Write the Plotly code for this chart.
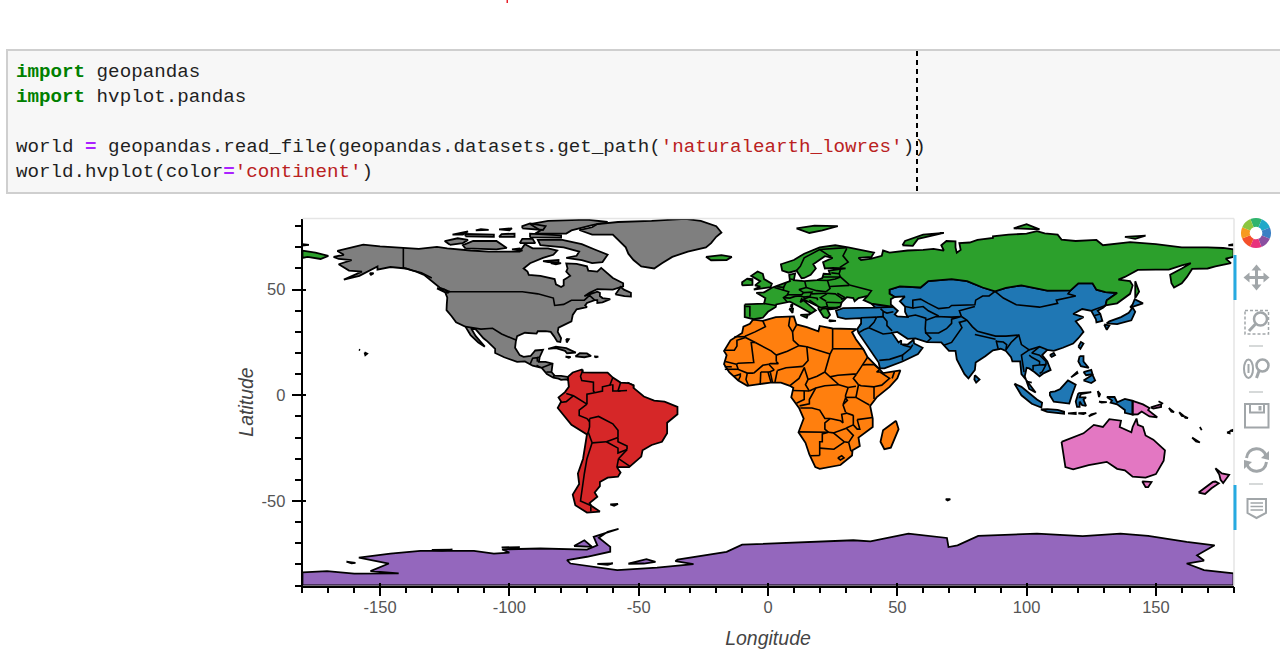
import plotly.graph_objects as go

W, H = 1280, 650

# ---------------------------------------------------------
# Map data, lon/lat
# ---------------------------------------------------------
# edge shared by Russia and its southern neighbours, east to west
russia_south = [(130.5, 42.5), (131, 45), (135, 48.4), (130.5, 48.8), (127, 50), (125.5, 53), (120, 53), (117, 49.6),
                (108, 49.5), (102, 51), (98, 52), (92, 50.8), (87.8, 49.2), (83, 51), (77, 54), (71, 55), (62, 54),
                (59, 51), (51, 51.5), (47, 50), (47, 48), (49, 46.5)]
caspian_west = [(47.5, 45.5), (47.5, 43)]
caucasus_north = [(48.5, 41.8), (44, 42.6), (40, 43.4)]

europe_main = [(-9, 43), (-1.5, 43.4), (-1, 46), (-4.5, 48.5), (-1.5, 48.7), (1.5, 50.9), (4, 52), (7, 53.5), (8.5, 54),
               (8.2, 57), (10.5, 57.7), (10, 54.5), (14, 54), (19, 54.5), (21, 55.5), (21.5, 57.5), (24, 57.3), (23.5, 59),
               (28, 59.5), (30, 60), (25, 60.3), (22, 60), (21.3, 63), (25, 65), (22, 65.8), (17.5, 62), (18.5, 60),
               (16.5, 57), (14, 55.5), (13, 55.4), (11, 59), (8, 58), (5.5, 59), (5, 62), (10, 64), (14, 67), (20, 70),
               (26, 71), (31, 70), (41, 67.5), (40, 65.5), (35, 65), (36, 64), (40, 64.7), (44, 66), (44.5, 68.5),
               (47, 67.5), (54, 68.5), (60, 68.8), (64, 69.3), (68, 68.5), (67, 71), (69, 73), (72.5, 72.8), (72.5, 70),
               (73, 67.5), (74.5, 68.8), (74, 72), (78, 72.3), (81, 73.5), (87, 74.5), (87, 75.2), (93, 76), (100, 76.5),
               (104, 77.7), (107, 76.6), (112, 76), (113.5, 73.7), (119, 73), (127, 73.5), (129.5, 71), (133, 71.5),
               (140, 72.5), (150, 71.5), (160, 70), (170, 70), (176, 69.7), (180, 69), (180, 65.5), (177, 64.7),
               (179, 62.5), (173, 61), (170, 60), (164, 59.8), (163, 57.8), (162, 56), (160, 53), (157, 51), (156, 53),
               (155.5, 57), (160, 60), (163.5, 62.5), (160, 61.5), (155, 59.5), (150, 59.5), (143, 59.3), (138, 56),
               (135.5, 54.7), (140, 54), (141, 52), (140, 48), (135, 43.5)]
europe_south = [(37, 45), (38.5, 47), (35, 46), (33.5, 44.5), (33, 46), (30.5, 46.4), (28.5, 44), (28, 42), (26.3, 41),
                (23, 40.5), (24, 38), (23, 36.5), (21.5, 37), (19.5, 41), (19.5, 42), (14, 45.2), (12.5, 44), (13, 45.6),
                (18.5, 40.2), (15.7, 38), (16.5, 39), (12, 42), (8.5, 44.3), (3.2, 43), (3, 41.8), (0, 39.5), (-2, 36.7),
                (-5.5, 36), (-9, 37)]
uk = [(-5.5, 50), (1, 51.2), (1.5, 52.8), (-1.5, 55), (-2, 57.5), (-4, 58.6), (-6.5, 56.5), (-3, 54), (-5, 52), (-3, 51.4)]
ireland = [(-10, 52), (-6, 52.2), (-6, 55), (-8, 55.2), (-10, 53.5)]
iceland = [(-24, 65.5), (-18, 66.3), (-14, 65.5), (-16, 64), (-22, 63.9)]
svalbard = [(11, 79), (16, 76.8), (21, 78), (27, 80), (18, 80.3)]
novaya_zemlya = [(52, 71), (56, 70.7), (58, 74), (68, 76.8), (60, 76), (53, 73)]
severnaya = [(95, 79), (105, 78.5), (100, 81)]
sakhalin = [(142, 54), (143.5, 49), (142, 46), (142, 50)]
novosibirsk = [(138, 75), (146, 75.5), (142, 74)]
chukotka_west = [(-180, 68.5), (-175, 67.5), (-170, 66), (-173, 64.5), (-178, 65.5), (-180, 65)]
wrangel = [(-180, 71.5), (-177.5, 71.2), (-180, 70.9)]
wrangel_east = [(178, 71), (180, 71.5), (180, 70.9)]
sicily = [(12.5, 38), (15.5, 38.2), (15, 36.7)]
sardinia = [(8.2, 41), (9.7, 41), (9.5, 39)]
corsica = [(8.6, 42.5), (9.5, 43), (9.3, 41.5)]
crete = [(23.5, 35.5), (26.3, 35.2), (24, 35)]
french_guiana = [(-54.5, 2.3), (-52, 3.5), (-52, 4.7), (-54, 5.8)]

asia_main = [(53, 46.8), (51, 44.5), (53, 42), (53, 39.5), (54, 37), (50, 37.3), (49, 38.3), (50.2, 40)]
asia_coast = [(41.5, 41.5), (36, 41.3), (31, 41), (29, 41.2), (26.3, 40), (27, 37), (30, 36.2), (36, 36.5), (36, 34),
              (34.5, 31.3), (35, 29.5), (38, 24), (42.8, 15.5), (43.3, 12.7), (45, 12.7), (52, 16), (58, 19.5),
              (59.8, 22.5), (56.5, 24.5), (56.3, 26.3), (54, 24), (51.5, 24.2), (51.5, 26), (50.5, 25), (48, 29.5), (50, 30),
              (54, 26.7), (57, 26.9), (61.5, 25.2), (67, 25), (68, 23.5), (70, 21), (72.5, 21), (73, 17), (76, 10),
              (77.5, 8), (80, 12), (80.3, 15.5), (84, 18.5), (87, 21.3), (90, 22), (92, 21), (94, 18), (94.5, 16),
              (97.5, 16), (98, 10), (100, 7), (103.5, 1.3), (101, 3), (100.3, 6), (99.3, 9), (100, 13), (101, 12.7),
              (103, 11), (105, 9), (106.7, 10.5), (109.3, 12), (108, 16), (106, 19), (108, 21.5), (110.5, 21),
              (114, 22.5), (118, 24.5), (120, 27), (122, 30), (121, 32), (119, 35), (122, 37), (118, 38.5), (121.5, 40.8),
              (125, 40), (126.8, 36), (127, 34.5), (129.3, 35.2), (128.5, 38.5), (127.5, 40), (129.7, 41.5)]
honshu = [(130.9, 34), (135, 33.7), (140.5, 35.5), (142, 39.5), (141, 41.5), (139.5, 39), (136.5, 37), (132, 35)]
hokkaido = [(140, 41.5), (145, 43.5), (141.8, 45.5), (141, 43)]
kyushu = [(130, 33.5), (132, 33), (131, 31)]
taiwan = [(120, 23), (121, 25.2), (122, 24.5), (120.8, 22)]
hainan = [(109, 19), (110.5, 20), (111, 19), (109.7, 18.2)]
sri_lanka = [(80, 9.5), (81.8, 7.5), (80.5, 6), (79.8, 7.5)]
luzon = [(120.5, 18.5), (122, 18.5), (122, 16), (124, 13), (121, 13.8), (120, 16)]
mindanao = [(122, 7), (125.5, 9.7), (126.5, 7), (125, 5.8)]
visayas = [(122, 11), (125, 12), (125.5, 10), (123, 9.5)]
palawan = [(117.2, 8.5), (119.5, 11), (119.7, 10.5)]
sumatra = [(95.3, 5.5), (98, 4), (104, -2), (106, -3.5), (105.7, -5.8), (102, -4), (98, 0)]
java = [(105.5, -6.7), (108, -6.5), (112, -6.9), (114.5, -7.8), (114.5, -8.7), (108, -7.8)]
borneo = [(109, 1.5), (111, 1.9), (113, 3), (116, 7), (119, 5), (118, 2), (117.5, 0), (116.5, -3.9), (114, -3.5),
          (110.5, -3), (109, 0)]
sulawesi = [(120, 1), (125, 1.5), (121, 0.5), (120.5, -1), (123, -1), (122, -2), (123, -5), (121.5, -4.7), (120.5, -3),
            (120.5, -5.5), (119.5, -5.5), (119, -3)]
timor = [(124, -10), (127, -8.4), (125, -9)]
sumbawa = [(116, -8.6), (119, -8.3), (119, -8.9)]
flores = [(120, -8.5), (123, -8.3), (122, -8.9)]
halmahera = [(127.5, 2), (128.4, 0.5), (128, -0.8)]
seram = [(128, -3), (131, -3.2), (129, -3.5)]
new_guinea_west = [(131, -0.8), (134, -0.8), (135, -3.3), (138, -1.7), (141, -2.6), (141, -9.1), (138, -8.3), (138, -7),
                   (135, -4.3), (132.5, -3.5), (133, -2.5)]

png = [(141, -2.6), (145, -4.3), (147.5, -6), (147, -7), (150.5, -10.4), (147.5, -10), (144.5, -7.7), (143, -9), (141, -9.1)]
new_britain = [(148, -5.7), (152, -4.2), (152, -5.5), (149, -6.3)]
new_ireland = [(151, -2.8), (152.8, -4), (152, -3.8)]
solomon_a = [(155, -6), (157, -8), (156, -7.8)]
solomon_b = [(159, -8), (161, -10), (160, -9.8)]
solomon_c = [(161, -10), (162.4, -10.8), (161.4, -10.7)]
vanuatu = [(167, -15), (167.7, -16.5), (167.2, -16)]
new_caledonia = [(164, -20), (167, -22.3), (165.5, -21.8)]
fiji = [(177.5, -17.7), (178.5, -18), (178.5, -17.2)]
fiji_east = [(178.6, -16.8), (180, -16.2), (179.6, -16.9)]
australia = [(113.5, -22), (114, -26), (115, -34), (118, -35), (124, -33), (131, -31.5), (135, -34.8), (138, -35.5),
             (141, -38.5), (146, -39), (150, -37.3), (153, -31), (153.5, -26), (149, -21), (146, -19), (145, -15),
             (143, -14), (142.5, -11), (141, -15), (140.5, -17.5), (136, -15), (136.5, -12), (132, -11.3),
             (129.5, -15), (126, -14), (122, -18), (117, -20.5)]
tasmania = [(144.7, -40.7), (148.3, -41), (147, -43.5), (146, -43.5)]
nz_south = [(166.5, -46), (172, -41), (173, -40.8), (174.3, -41.7), (171.5, -44), (169, -46.7)]
nz_north = [(173, -34.5), (175.5, -37), (178.3, -37.7), (176, -41.5), (175, -40), (174.5, -37.5)]

africa = [(-5.8, 35.8), (-2, 35.2), (3, 37), (10, 37.3), (11, 33.5), (15, 32.3), (19.5, 30.3), (20, 32.8), (25, 31.6),
          (32, 31.2), (34.2, 31.3), (32.5, 29.8), (34, 26.5), (37, 21.5), (38.5, 18), (43, 12.5), (44.5, 10.5), (51.2, 11.8),
          (50, 8), (47, 4), (42, -1), (39.5, -5), (40.5, -11), (40.5, -15), (35, -20), (35.5, -24), (32.7, -26),
          (32.5, -28.5), (28, -33), (20, -34.8), (18.3, -34), (16, -28), (14.5, -22.5), (11.8, -17.5), (13.8, -11),
          (12, -6), (9, -1), (9.8, 3.5), (8.5, 4.5), (5, 6), (1, 6), (-4, 5.2), (-8, 4.5), (-11.5, 7), (-15, 11),
          (-17, 14.7), (-16, 19), (-17, 21), (-14.5, 26), (-10, 29.5), (-9.5, 32.5), (-7, 33.8)]
madagascar = [(49.5, -12), (50.5, -16), (47.5, -24.8), (45, -25.5), (43.5, -22), (44.5, -16.5)]

north_america = [(-168, 65.5), (-164, 66.5), (-166.5, 68.3), (-156.5, 71.3), (-150, 70.5), (-141, 69.7), (-135, 69.3),
                 (-128, 70.2), (-124, 69.5), (-115, 68.5), (-108, 68), (-100, 68), (-96, 68), (-94, 71.5), (-91, 69.5),
                 (-85, 69.5), (-81.5, 68.5), (-83, 66.5), (-87, 65), (-92, 62.5), (-94.5, 60), (-93, 58.5), (-92.5, 57),
                 (-88, 56.5), (-82.5, 55), (-82, 52.5), (-80, 51.2), (-79, 52), (-79, 54.5), (-76.5, 56.5), (-78, 58.5),
                 (-77.5, 60), (-78, 62.4), (-74, 62.2), (-70, 61), (-69.5, 59), (-66, 58.5), (-64.5, 60.3), (-62, 57.5),
                 (-60, 55.5), (-56, 53), (-56, 51.5), (-60, 50), (-66, 50.2), (-69, 48.5), (-71, 46.9), (-66, 49),
                 (-65, 48.5), (-65, 47), (-64, 46), (-61, 45.5), (-64, 44), (-66, 43.7), (-66, 45), (-67, 45), (-70, 43.7),
                 (-70.7, 42.5), (-70, 41.7), (-74, 40.7), (-75.5, 38), (-76, 35), (-78, 33.8), (-81, 32), (-81.3, 30),
                 (-80, 27), (-80.3, 25.2), (-81.5, 25.5), (-82.8, 28), (-84, 30), (-86, 30.4), (-89, 30.3), (-89.5, 29.2),
                 (-91, 29.3), (-94, 29.6), (-97, 28), (-97.5, 25.5), (-97.8, 22.5), (-96, 19), (-94.5, 18.2), (-91.8, 18.6),
                 (-90.5, 20.5), (-90, 21.2), (-87, 21.5), (-87.8, 19), (-88.3, 18), (-88.6, 15.8), (-86, 15.8), (-83.3, 15),
                 (-83.7, 11), (-82.5, 9.3), (-80, 9.2), (-77.4, 8.7), (-77.4, 7.2), (-78, 7.5), (-80, 7.3), (-81, 7.9),
                 (-83, 8.3), (-85.5, 10), (-87.5, 13), (-91, 14), (-94, 16), (-97, 15.8), (-102, 18), (-105.5, 20),
                 (-105.5, 22), (-108.5, 25.5), (-110, 27), (-113, 31.2), (-114.8, 31.7), (-113, 28), (-110, 24),
                 (-109.5, 23), (-112, 25), (-115, 28.5), (-117, 32.5), (-120.6, 34.5), (-122.4, 37.5), (-124.3, 40.3),
                 (-124.2, 43), (-124, 46.2), (-124.7, 48.4), (-123, 49), (-127, 51), (-130, 54), (-133, 57), (-136, 58.5),
                 (-140, 60), (-146, 60.7), (-151, 59.5), (-151, 61), (-153, 59.8), (-158, 56.5), (-164, 54.7), (-157, 58.5),
                 (-162, 59), (-165, 61), (-166, 62), (-161, 64), (-166, 64.5)]
greenland = [(-73, 78.2), (-68, 76), (-60, 76), (-55, 70), (-54, 67), (-52, 64), (-49, 61), (-44, 60), (-41, 62.5),
             (-37, 65.5), (-31, 68), (-24, 70), (-22, 72), (-20, 75), (-18, 77), (-20, 80), (-26, 82.5), (-32, 83.5),
             (-45, 82.5), (-58, 82), (-66, 81), (-68, 79.5)]
baffin = [(-80, 73.7), (-72, 71.5), (-67, 69), (-62, 66.5), (-64, 63), (-68, 62.5), (-72, 64), (-78, 65), (-74, 66),
          (-73, 68), (-79, 70), (-88, 71), (-89, 73.5)]
victoria = [(-117, 69.5), (-105, 69), (-101, 69.7), (-105, 73), (-114, 73), (-118, 71)]
ellesmere = [(-90, 76.5), (-78, 76.5), (-76, 78), (-68, 80.5), (-62, 82), (-70, 83.1), (-85, 82.5), (-92, 81), (-88, 78)]
banks = [(-123, 71.2), (-118, 72), (-116, 73.5), (-120, 74.3), (-125, 73)]
devon = [(-92, 74.7), (-80, 74.6), (-80, 75.7), (-92, 76.5)]
melville = [(-117, 75.2), (-106, 75), (-106, 76), (-117, 76.3)]
axel_heiberg = [(-95, 79), (-87, 78.2), (-86, 80), (-92, 81.3), (-95, 80)]
southampton = [(-87, 63.5), (-81, 64), (-81, 62.8), (-85, 63)]
somerset = [(-96, 72), (-90, 72), (-91, 74), (-95, 74)]
prince_patrick = [(-122, 76), (-116, 77.5), (-118, 76)]
bathurst = [(-104, 75), (-98, 75), (-98, 76.5), (-103, 76.3)]
king_william = [(-99, 69), (-96, 69.5), (-95, 68.3)]
ringnes = [(-104, 78.5), (-100, 78), (-99, 79)]
borden = [(-113, 78), (-108, 78.3), (-111, 78.6)]
coats = [(-84, 62.5), (-80, 62.5), (-82, 62)]
kodiak = [(-154, 57.8), (-152.5, 57.8), (-153.5, 57)]
newfoundland = [(-59, 47.7), (-55.5, 46.9), (-53, 46.7), (-53, 48.5), (-55.7, 50), (-57, 51.3), (-58, 49.5)]
vancouver = [(-128, 50.6), (-125, 50), (-123.5, 48.5), (-125, 48.8)]
cuba = [(-85, 22), (-82, 23), (-78, 22.3), (-74.3, 20.2), (-77.7, 19.9), (-78.5, 21), (-82, 22.3)]
hispaniola = [(-74.5, 18.4), (-72.8, 19.9), (-70, 19.8), (-68.4, 18.6), (-71, 18)]
jamaica = [(-78.3, 18.3), (-76.3, 18.2), (-77, 17.8)]
puerto_rico = [(-67.2, 18.4), (-65.6, 18.3), (-66.5, 18)]
bahamas = [(-78, 26.7), (-77, 26.5), (-77.8, 25)]
hawaii = [(-156, 20.3), (-155, 19.7), (-155.7, 19)]
oahu = [(-158.2, 21.6), (-157.7, 21.4), (-158, 21.3)]

south_america = [(-77.4, 8.7), (-75.5, 10.8), (-72, 12.2), (-71.5, 10.8), (-68, 10.7), (-62, 10.7), (-60, 8.4), (-57, 6),
                 (-54, 5.8), (-52, 4.7), (-52, 3.5), (-50, 1.5), (-48, -0.6), (-44, -2.5), (-40, -3), (-35, -5.5), (-35, -9),
                 (-39, -13), (-39, -18), (-41, -22), (-45, -23.5), (-48.5, -26), (-49, -29), (-53.7, -34), (-58.4, -34),
                 (-57, -36.5), (-58, -38.5), (-62, -39), (-65, -41), (-65, -43), (-67, -46), (-66, -48), (-69, -51),
                 (-68.3, -52.3), (-65, -55), (-70, -55.5), (-74.5, -52), (-75.5, -47), (-73, -42), (-73.5, -37),
                 (-71.5, -30), (-70, -18.5), (-76, -14), (-81.3, -6), (-80, -3), (-81, -1), (-78.5, 1.5), (-77, 4), (-77.4, 7.2)]

antarctica = [(-180, -83.8), (-170.5, -83.2), (-160, -84.4), (-142.8, -84.3), (-153.7, -83.2), (-146.6, -79.6),
              (-158.2, -76.8), (-146, -74.9), (-134.4, -73.6), (-113.7, -73.6), (-106, -74.9), (-100, -74.4),
              (-102.8, -72.9), (-88, -72.5), (-70, -73), (-66, -71), (-67.4, -67), (-57.8, -63.2), (-62, -64.6),
              (-65.4, -67.4), (-61, -71.7), (-61, -74), (-70, -76.4), (-77.7, -78), (-76.4, -79.6), (-58.3, -82.7),
              (-42.9, -81.5), (-28.8, -79.9), (-35.8, -78.5), (-35, -77.8), (-26.1, -76), (-16, -74.1), (-10, -70.7),
              (8.7, -69.7), (33, -68.6), (39.6, -69.1), (54.3, -65.5), (69.2, -67.5), (69.8, -71.8), (73.3, -71),
              (81.3, -66.5), (104, -65.5), (121.7, -66.6), (136.3, -65.5), (147, -66.5), (161.9, -69.4), (172.7, -71),
              (165.9, -75.7), (168.6, -78.2), (161.9, -79.6), (168.6, -82.7), (180, -84.3), (180, -90), (-180, -90)]
alexander = [(-75, -71.3), (-71, -68.6), (-68, -71.7)]
thurston = [(-103, -72), (-96, -71.8), (-98, -72.4)]
siple = [(-130, -73.2), (-122, -73), (-126, -73.5)]
berkner = [(-66, -79.8), (-60, -79.5), (-62, -80.2)]
filchner = [(-54, -79.7), (-47, -77.5), (-43.5, -78.8), (-48, -79.6)]
roosevelt = [(-163, -78.7), (-159.5, -79.3), (-161, -79.5)]
kerguelen = [(68.7, -49.2), (70.5, -49.2), (69.5, -49.8)]
falklands = [(-61, -51.6), (-58, -51.4), (-59.5, -52.3)]

# country borders drawn on top of the filled land
na_borders = [[(-141, 69.7), (-141, 60.3), (-137.5, 59), (-134, 58), (-130, 55.5)],
              [(-123, 49), (-95, 49), (-89, 48), (-83, 46), (-82.5, 42.5), (-79, 43), (-76, 45), (-71, 45), (-69, 47.3), (-67, 45)],
              [(-117, 32.5), (-111, 31.3), (-106.5, 31.7), (-103, 29), (-97.2, 26)],
              [(-92, 14.6), (-91, 17.5), (-89.2, 17.8), (-89.2, 15.9)], [(-88.3, 18), (-89.2, 17.9)],
              [(-88, 13.2), (-89.5, 14.3)], [(-83.3, 15), (-87.5, 13)], [(-83.7, 11), (-85.7, 11)], [(-82.7, 9.5), (-83, 8.3)]]
sa_borders = [[(-71.5, 12.2), (-72.5, 9), (-72, 7), (-67.5, 6.2), (-67.5, 2), (-67, 1.2)], [(-60, 8.4), (-61, 5.2), (-60.5, 5)],
              [(-60, 5.2), (-60, 2), (-57, 2)], [(-57, 6), (-58, 2)], [(-58, 2), (-54.5, 2.3)],
              [(-67, 1.2), (-64, 2), (-64, 4), (-60.5, 5)], [(-67, 1.2), (-70, 0.5), (-70, -4.2)],
              [(-70, -4.2), (-72, -2.5), (-75.2, -0.2), (-78, 0.8)], [(-75.2, -0.2), (-78, -3), (-80.3, -3.4)],
              [(-70, -4.2), (-73, -7), (-73, -9.5), (-70, -11), (-69, -12.5)], [(-69, -11), (-69, -15), (-69.5, -17.5)],
              [(-69, -11), (-65.5, -10), (-60, -13.5), (-58, -16.5), (-58, -20)], [(-69.5, -17.5), (-68, -22.5)],
              [(-68, -22.5), (-62.5, -22)], [(-62.5, -22), (-58, -20)], [(-58, -20), (-58, -22), (-54.5, -24), (-54.5, -25.7)],
              [(-62.5, -22), (-58, -25), (-58, -27.3), (-54.5, -25.7)], [(-54.5, -25.7), (-57.8, -30)],
              [(-57.8, -30), (-53.5, -33.5)], [(-58.4, -34), (-57.8, -30)],
              [(-68, -22.5), (-70, -30), (-71, -37), (-72, -45), (-72.5, -50), (-68.3, -52.3)], [(-68.5, -52.5), (-68.5, -55)],
              [(-70, -18.5), (-69.5, -17.5)]]
africa_borders = [[(-2, 35.2), (-1, 32.5), (-5, 30), (-8.7, 28), (-8.7, 27.3)], [(-13, 27.7), (-8.7, 27.7)],
                  [(-8.7, 27.3), (-12, 26), (-12, 23.3), (-13, 21.3), (-17, 21.3)], [(-8.7, 27.3), (-4.9, 25)],
                  [(-4.9, 25), (-6.5, 25), (-5.5, 15.5), (-11.5, 15.2), (-12.2, 14.7)], [(-16.5, 16), (-12.2, 14.7)],
                  [(-4.9, 25), (1.2, 21), (3.2, 19), (3.2, 16)], [(8.5, 37), (8, 33), (9.5, 30)],
                  [(9.5, 30), (9.8, 26), (12, 23.5)], [(3.2, 19), (7.5, 20.8), (12, 23.5)], [(11, 33.2), (9.5, 30)],
                  [(12, 23.5), (15, 23)], [(15, 23), (24, 19.5)], [(25, 31.6), (25, 22)], [(25, 22), (36.9, 22)],
                  [(25, 22), (24, 20), (24, 19.5)], [(24, 19.5), (22.5, 13), (22, 11)], [(22, 11), (19, 9), (15.5, 7.5)],
                  [(15.5, 7.5), (14, 13), (14, 13.3)], [(15, 23), (15.5, 16.5), (13.5, 13.7)],
                  [(13.5, 13.7), (7, 13), (3.6, 11.7)], [(3.2, 16), (4, 15), (1, 15), (0.3, 14.7)],
                  [(0.3, 14.7), (-2, 14.2), (-5.5, 10.5)], [(0.3, 14.7), (2.4, 12)],
                  [(-5.5, 10.5), (-8, 10.5), (-11.5, 12.2), (-12.2, 14.7)], [(-11.5, 12.3), (-16.7, 12.3)],
                  [(-16.8, 13.5), (-14, 13.5)], [(-13.2, 9), (-10.7, 10), (-10.7, 9), (-11.5, 7)],
                  [(-8, 10.5), (-8.5, 7.5), (-7.5, 4.4)], [(-3, 5), (-2.8, 11)], [(-2.8, 11), (0.5, 11), (2.4, 12)],
                  [(0, 11), (1.2, 6)], [(0.9, 11), (1.7, 6.2)], [(3.6, 11.7), (2.7, 6.3)], [(14, 13), (12, 8), (8.6, 4.7)],
                  [(9.7, 2.3), (16, 2)], [(15.5, 7.5), (14.5, 5), (16, 2)], [(16, 2), (18.5, 3.5), (22, 4.5), (27.4, 5)],
                  [(27.4, 5), (24, 8.5), (22, 11)], [(24, 8.7), (27, 9.5), (33, 10), (34, 10)], [(36.5, 14.3), (34.2, 10)],
                  [(36.5, 14.3), (38, 14.5), (41, 14.5), (43, 12.5)], [(38.5, 18), (36.5, 14.3)], [(43, 12), (42, 11), (43.3, 11)],
                  [(43.3, 11), (47, 8), (44, 4.8), (41, 4)], [(48.9, 11.2), (48, 8)], [(41, 4), (36, 4.5), (35, 5)],
                  [(34.2, 10), (33, 8), (35, 5)], [(41, 4), (41, -1.7)], [(39.2, -4.6), (34, -1)], [(35, 5), (34, 0.3), (34, -1)],
                  [(34, -1), (30, -1)], [(34, 4.3), (31, 3.7)], [(31, 3.7), (30, 0), (30, -1.2)], [(27.4, 5), (31, 3.7)],
                  [(30, -1.3), (29, -4.5), (30.7, -2.4), (30, -1.3)], [(29, -4.5), (30, -8)],
                  [(18.5, 3.5), (16, -2), (16, -4), (12.2, -5)], [(14, 2), (14, -2), (11, -3.8)],
                  [(12.5, -6), (17, -6), (20, -7), (22, -11), (24, -11)], [(24, -11), (28, -12), (29, -13), (28.5, -9), (30.5, -8.5)],
                  [(24, -11), (22, -13), (22, -16), (23.4, -17.5)], [(11.8, -17.3), (23.4, -17.5)], [(30, -8.3), (33, -9.5)],
                  [(40.5, -10.5), (34.5, -11.5)], [(33, -9.5), (33, -14), (34.5, -16), (35.5, -16), (34.5, -11.5)],
                  [(33, -14), (30.3, -15.5)], [(30.3, -15.6), (25.3, -17.8), (23.4, -17.5)],
                  [(30.3, -15.6), (33, -19), (31.2, -22.3)], [(31.2, -22.3), (32, -26), (32.7, -26.8)],
                  [(25.3, -17.8), (29.5, -22), (31.2, -22.3)], [(29.5, -22.2), (25.5, -25.5), (20, -25)],
                  [(23.4, -17.5), (21, -18.3), (21, -22), (20, -22), (20, -28.5)], [(20, -28.5), (16.5, -28.6)],
                  [(27, -29.6), (28.5, -28.6), (29.4, -29.6), (28, -30.6), (27, -29.6)]]
asia_borders = [[(53, 42), (56, 41.3), (56, 45), (59, 45.5), (62, 43.5), (66, 41), (70, 41.5), (71, 42.5), (80, 42.8), (80.3, 45), (83, 47), (85.5, 47), (87.8, 49.2)],
                [(56, 41.3), (60, 42), (62, 40), (66, 37.5)], [(54, 37.3), (57, 38), (61, 36.5), (61, 35.5)],
                [(61, 35.5), (65, 37.3), (71, 37), (74.8, 37.3), (71, 36), (71, 34), (69, 31.5), (66, 29.5), (61, 29.5), (60.8, 31.5), (61, 35.5)],
                [(60.8, 29.8), (63, 27), (61.5, 25.2)], [(68, 23.7), (71, 25), (75, 32), (74, 34.5), (77, 35.5)],
                [(74.8, 37.3), (74, 40), (80, 42)],
                [(74.8, 37.3), (77, 35.5), (79, 32.5), (81, 30.3), (88, 28), (92, 28), (97, 28.5), (98, 24), (101, 21.5), (105, 23), (108, 21.5)],
                [(80, 28.8), (88, 26.5)], [(88.2, 26), (89, 22)], [(92, 21.5), (92.3, 24), (91, 25.2), (88.2, 25.5)],
                [(92, 21.5), (94, 25), (97, 28.5)], [(101, 21.5), (98, 19), (98.5, 15), (99, 11)],
                [(105, 23), (102, 20), (105, 19), (107.5, 16), (107.5, 14.5)], [(101, 19), (102, 18), (105, 16), (105, 14.3)],
                [(102.5, 12), (102.5, 14), (105, 14.3), (107.5, 14.5), (106, 11), (105, 10.3)], [(100.2, 6.5), (102, 6)],
                [(125, 40), (130.5, 42.5)], [(126.3, 37.8), (128.5, 38.5)],
                [(87.8, 49.2), (91, 46), (96, 42.8), (105, 41.7), (112, 43.5), (111.5, 45), (119, 47), (116, 48), (117, 49.6)],
                [(36, 36.7), (42, 37)], [(42, 37), (44.5, 37.2), (46, 35), (46, 33), (48, 30.5)], [(42, 37), (41, 34.5), (39, 32)],
                [(39, 32), (37, 31), (35, 29.5)], [(39, 32), (44.5, 29), (48, 29.5)], [(43, 16.5), (47, 17), (52, 19), (52, 16.5)],
                [(52, 19), (55, 22), (56, 24)], [(52, 23.8), (55.2, 22.7)], [(41.5, 41.5), (46, 41.5), (48.5, 41.8)],
                [(43.5, 41), (44.8, 39.5), (46, 38.9), (48.5, 39.5)], [(44.5, 37.2), (44.5, 39.7)], [(35.5, 33), (36, 34)]]
europe_borders = [[(-8.8, 42), (-7, 42), (-7, 37.2)], [(-1.5, 43.4), (3.2, 42.5)],
                  [(2.5, 51), (6, 49.5), (8, 49), (7.5, 47.5), (6, 46.2), (7.5, 44)], [(3.5, 51.4), (6, 51), (6, 49.5)],
                  [(7, 53.3), (6, 51)], [(14.2, 54), (14.8, 51), (12, 50), (13.8, 48.6)], [(8.6, 55), (9.8, 54.8)],
                  [(7.5, 47.6), (10, 47.5), (13, 47.5), (13.8, 48.6)],
                  [(6, 46.2), (8.5, 46), (10.4, 46.8), (12.2, 47), (14, 46.5), (13.7, 45.8)],
                  [(13.8, 48.6), (17, 48.8), (16.2, 46.8), (14, 46.5)], [(14.8, 51), (18.8, 49.5), (22.5, 49)],
                  [(17, 48), (22.5, 48.3)], [(19, 54.4), (23, 54.3), (23.6, 52), (24, 50.5), (22.5, 49)],
                  [(21, 56), (26, 56), (28, 56), (27.5, 57.5), (24.5, 57.9)], [(23, 54.3), (26, 55), (28, 56)],
                  [(28, 56), (31, 53), (31.5, 52.2)], [(24, 51.5), (31.5, 52)], [(31.5, 52.2), (35, 51), (40, 49.5), (38.5, 47)],
                  [(22.5, 48.3), (26, 48), (29, 45.5)], [(26.8, 48.3), (29.8, 46.2), (28.2, 45.5)],
                  [(22.8, 48), (20.3, 46.2), (22.5, 44.5)], [(22.5, 44), (28.5, 43.8)], [(22.5, 44), (23, 42), (20.5, 41.5), (19.3, 42)],
                  [(13.7, 45.5), (16, 46.5), (19, 45.9), (19.2, 45)], [(16, 45), (19, 42.5)], [(20, 39.7), (21, 41), (26, 41.3)],
                  [(23, 41.5), (26.3, 41.5), (28, 42)], [(11, 59), (12.5, 61), (14, 65), (20, 69), (26, 69.5), (30.5, 69.8)],
                  [(20, 69), (23.7, 66), (24.5, 65.8)], [(30.5, 69.5), (29, 66), (31, 63), (27.8, 60.5)], [(28, 59.5), (27.5, 57.5)],
                  [(-8, 55), (-6, 54.2)]]
oceania_borders = [[(141, -2.6), (141, -9.1)]]

europe_polys = [europe_main + russia_south + caspian_west + caucasus_north + europe_south, uk, ireland, iceland, svalbard,
                novaya_zemlya, severnaya, sakhalin, novosibirsk, chukotka_west, wrangel, wrangel_east, sicily, sardinia,
                corsica, crete, french_guiana]
asia_polys = [asia_main + caucasus_north + asia_coast + russia_south, honshu, hokkaido, kyushu, taiwan, hainan,
              sri_lanka, luzon, mindanao, visayas, palawan, sumatra, java, borneo, sulawesi, timor, sumbawa, flores, halmahera,
              seram, new_guinea_west]
oceania_polys = [australia, png, new_britain, new_ireland, solomon_a, solomon_b, solomon_c, vanuatu, new_caledonia, fiji,
                 fiji_east, tasmania, nz_south, nz_north]
africa_polys = [africa, madagascar]
na_polys = [north_america, greenland, baffin, victoria, ellesmere, banks, devon, melville, axel_heiberg, southampton,
            somerset, prince_patrick, bathurst, king_william, ringnes, borden, coats, kodiak, newfoundland, vancouver,
            cuba, hispaniola, jamaica, puerto_rico, bahamas, hawaii, oahu]
sa_polys = [south_america, falklands]
antarctica_polys = [antarctica, alexander, thurston, siple, berkner, filchner, roosevelt, kerguelen]

continents = ["Asia", "Africa", "Europe", "South America", "Antarctica", "Oceania", "North America"]
continent_polys = [asia_polys, africa_polys, europe_polys, sa_polys, antarctica_polys, oceania_polys, na_polys]
continent_colors = ["#1f77b4", "#ff7f0e", "#2ca02c", "#d62728", "#9467bd", "#e377c2", "#7f7f7f"]
border_lines = na_borders + sa_borders + africa_borders + asia_borders + europe_borders + oceania_borders

x_tick_vals = [-150, -100, -50, 0, 50, 100, 150]
x_tick_text = ["-150", "-100", "-50", "0", "50", "100", "150"]
y_tick_vals = [-50, 0, 50]
y_tick_text = ["-50", "0", "50"]

code_lines = [
    ('<b><span style="color:#008000">import</span></b> geopandas', 72),
    ('<b><span style="color:#008000">import</span></b> hvplot.pandas', 97),
    ('world <b><span style="color:#aa22ff">=</span></b> geopandas.read_file(geopandas.datasets.get_path('
     '<span style="color:#ba2121">\'naturalearth_lowres\'</span>))', 147),
    ('world.hvplot(color<b><span style="color:#aa22ff">=</span></b><span style="color:#ba2121">\'continent\'</span>)', 172),
]


def px(x, y):
    return x / W, 1 - y / H


def join_rings(rings, close=True):
    # flat lon/lat lists with None between the rings
    lons, lats = [], []
    for ring in rings:
        pts = ring + ring[:1] if close else ring
        lons += [p[0] for p in pts] + [None]
        lats += [p[1] for p in pts] + [None]
    return lons, lats


def path(*cmds):
    # cmds are ("M", x, y, ...) in page pixels
    out = []
    for c in cmds:
        if c[0] == "Z":
            out.append("Z")
            continue
        nums = []
        for i in range(1, len(c), 2):
            a, b = px(c[i], c[i + 1])
            nums += [f"{a:.5f}", f"{b:.5f}"]
        out.append(c[0] + " ".join(nums))
    return " ".join(out)


def poly(pts):
    return path(("M",) + pts[0], *[("L",) + p for p in pts[1:]], ("Z",))


def rect_shape(x0, y0, x1, y1, **kw):
    a, b = px(x0, y0)
    c, d = px(x1, y1)
    return dict(type="rect", xref="paper", yref="paper", x0=a, y0=b, x1=c, y1=d, **kw)


def ellipse_shape(x0, y0, x1, y1, **kw):
    a, b = px(x0, y0)
    c, d = px(x1, y1)
    return dict(type="circle", xref="paper", yref="paper", x0=a, y0=b, x1=c, y1=d, **kw)


def circle_shape(cx, cy, r, **kw):
    return ellipse_shape(cx - r, cy - r, cx + r, cy + r, **kw)


def line_shape(x0, y0, x1, y1, **kw):
    a, b = px(x0, y0)
    c, d = px(x1, y1)
    return dict(type="line", xref="paper", yref="paper", x0=a, y0=b, x1=c, y1=d, **kw)


def path_shape(d, fill=None, line=None):
    return dict(type="path", xref="paper", yref="paper", path=d, fillcolor=fill or "rgba(0,0,0,0)",
                line=line or dict(width=0))


fig = go.Figure()

for name, polys, color in zip(continents, continent_polys, continent_colors):
    lons, lats = join_rings(polys)
    fig.add_trace(go.Scatter(x=lons, y=lats, mode="lines", name=name, fill="toself", fillcolor=color,
                             line=dict(color="black", width=1.8), showlegend=False))

lons, lats = join_rings(border_lines, close=False)
fig.add_trace(go.Scatter(x=lons, y=lats, mode="lines", line=dict(color="black", width=1.6),
                         hoverinfo="skip", showlegend=False))

# empty trace so the inner tick axes get drawn over the land
fig.add_trace(go.Scatter(x=[0], y=[0], xaxis="x2", yaxis="y2", mode="markers", marker=dict(opacity=0),
                         hoverinfo="skip", showlegend=False))

# bokeh logo in the toolbar
fig.add_trace(go.Pie(values=[1] * 8, sort=False, direction="clockwise", rotation=-22, hole=0.42, textinfo="none",
                     hoverinfo="skip", showlegend=False,
                     marker=dict(colors=["#2fb46e", "#1fa8c9", "#3b7fc4", "#8a4fa0", "#e8327c", "#f4502a", "#f79a1e", "#8cc63f"],
                                 line=dict(width=0)),
                     domain=dict(x=[1241 / W, 1271 / W], y=[1 - 248 / H, 1 - 218 / H])))

icon = "#a1a6a9"
thick = dict(color=icon, width=2)
shapes = [
    rect_shape(7, 50, 1290, 193, fillcolor="#f7f7f7", line=dict(color="#cfcfcf", width=2), layer="below"),
    line_shape(917, 51, 917, 193, line=dict(color="black", width=2, dash="5px,4px")),
    rect_shape(506.5, 0, 508, 3, fillcolor="#e8202a", line=dict(width=0)),
    line_shape(302.5, 218.5, 1234, 218.5, line=dict(color="#e5e5e5", width=1.5)),
    line_shape(1234, 218.5, 1234, 585.5, line=dict(color="#e5e5e5", width=1.5)),
    rect_shape(1233.5, 255, 1236.5, 300, fillcolor="#26aae1", line=dict(width=0)),
    rect_shape(1233.5, 485, 1236.5, 530, fillcolor="#26aae1", line=dict(width=0)),
    # pan
    line_shape(1247, 277.5, 1266, 277.5, line=dict(color=icon, width=3)),
    line_shape(1256.5, 268, 1256.5, 287, line=dict(color=icon, width=3)),
    path_shape(poly([(1256.5, 264.5), (1261.5, 270.5), (1251.5, 270.5)]), icon),
    path_shape(poly([(1256.5, 290.5), (1261.5, 284.5), (1251.5, 284.5)]), icon),
    path_shape(poly([(1243.5, 277.5), (1249.5, 272.5), (1249.5, 282.5)]), icon),
    path_shape(poly([(1269.5, 277.5), (1263.5, 272.5), (1263.5, 282.5)]), icon),
    # box zoom
    rect_shape(1245, 310.5, 1268.5, 334, line=dict(color=icon, width=1.5, dash="3px,2px")),
    circle_shape(1260.5, 319, 6.5, fillcolor="white", line=dict(color=icon, width=2.5)),
    line_shape(1255.5, 324, 1249, 331, line=dict(color=icon, width=3)),
    line_shape(1249, 346, 1263, 346, line=dict(color="#c9cccd", width=1.5)),
    # wheel zoom
    ellipse_shape(1244, 359.5, 1253, 378, line=thick),
    line_shape(1248.5, 364, 1248.5, 373, line=dict(color=icon, width=2)),
    circle_shape(1262.5, 365.5, 6, fillcolor="white", line=dict(color=icon, width=2.5)),
    line_shape(1259, 371, 1256.5, 378, line=dict(color=icon, width=3)),
    line_shape(1249, 392, 1263, 392, line=dict(color="#c9cccd", width=1.5)),
    # save
    rect_shape(1245, 404, 1268.5, 427.5, line=thick),
    rect_shape(1250, 404, 1264, 412.5, line=thick),
    rect_shape(1258.5, 406, 1261.5, 410.5, fillcolor=icon, line=dict(width=0)),
    # reset
    path_shape(path(("M", 1246.5, 458), ("C", 1248, 446, 1264, 446, 1266, 456)), line=dict(color=icon, width=3)),
    path_shape(path(("M", 1266.5, 462), ("C", 1265, 474, 1249, 474, 1247, 464)), line=dict(color=icon, width=3)),
    path_shape(poly([(1269, 451), (1269, 460), (1261, 458)]), icon),
    path_shape(poly([(1244, 469), (1244, 460), (1252, 462)]), icon),
    line_shape(1249, 484, 1263, 484, line=dict(color="#c9cccd", width=1.5)),
    # hover
    path_shape(poly([(1247.5, 499), (1266, 499), (1266, 513), (1256.5, 518), (1247.5, 513)]), line=thick),
    line_shape(1250.5, 503, 1263, 503, line=dict(color=icon, width=1.5)),
    line_shape(1250.5, 506.5, 1263, 506.5, line=dict(color=icon, width=1.5)),
    line_shape(1250.5, 510, 1263, 510, line=dict(color=icon, width=1.5)),
]

annotations = []
for text, y in code_lines:
    a, b = px(16, y)
    annotations.append(dict(text=text, xref="paper", yref="paper", x=a, y=b, xanchor="left", yanchor="middle",
                            showarrow=False, align="left", xshift=-2,
                            font=dict(family="Liberation Mono", size=19.2, color="#1f1f1f")))

tick_font = dict(family="Liberation Sans", size=16.5, color="#555555")
title_font = dict(family="Liberation Sans", size=19.5, color="#444444")
minor = dict(ticks="outside", ticklen=6, tickwidth=1.5, tickcolor="black", dtick=10, tick0=0, showgrid=False)

fig.update_layout(
    width=W, height=H, margin=dict(l=0, r=0, t=0, b=0), autosize=False,
    paper_bgcolor="white", plot_bgcolor="white", showlegend=False,
    shapes=shapes, annotations=annotations,
    xaxis=dict(domain=[302.5 / W, 1233.5 / W], range=[-179.99, 180], tickmode="array", tickvals=x_tick_vals,
               ticktext=x_tick_text, ticks="outside", ticklen=9, tickwidth=1.5, tickcolor="black", minor=minor,
               showline=True, linecolor="black", linewidth=1.5, showgrid=False, zeroline=False, tickfont=tick_font,
               ticklabelstandoff=-3,
               title=dict(text="<i>Longitude</i>", font=title_font, standoff=16)),
    yaxis=dict(domain=[1 - 585.5 / H, 1 - 218.5 / H], range=[-90, 83.65], tickmode="array", tickvals=y_tick_vals,
               ticktext=y_tick_text, ticks="outside", ticklen=9, tickwidth=1.5, tickcolor="black", minor=minor,
               showline=True, linecolor="black", linewidth=1.5, showgrid=False, zeroline=False, tickfont=tick_font,
               ticklabelstandoff=3,
               title=dict(text="<i>Latitude</i>", font=title_font, standoff=3)),
    xaxis2=dict(overlaying="x", anchor="y", range=[-179.99, 180], tickmode="array", tickvals=x_tick_vals, ticks="inside",
                ticklen=3, tickwidth=1.5, tickcolor="black", showticklabels=False, showgrid=False, zeroline=False),
    yaxis2=dict(overlaying="y", anchor="x", range=[-90, 83.65], tickmode="array", tickvals=y_tick_vals, ticks="inside",
                ticklen=3, tickwidth=1.5, tickcolor="black", showticklabels=False, showgrid=False, zeroline=False),
)

fig.write_html("out.html", config={"displayModeBar": False}, post_script="document.body.style.margin='0';")
